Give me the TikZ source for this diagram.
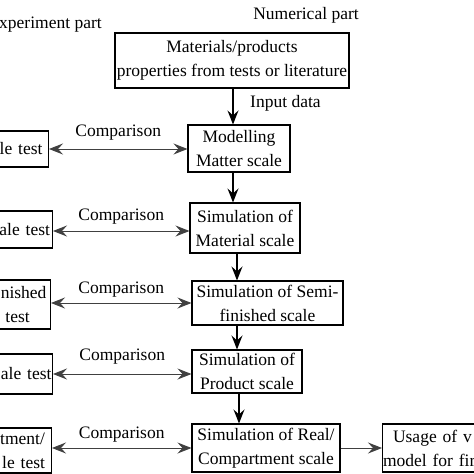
\documentclass[tikz,border=0pt]{standalone}
\usepackage{fontspec}
\setmainfont{Liberation Serif}
\usetikzlibrary{arrows.meta,calc}
\begin{document}
\begin{tikzpicture}[x=1pt,y=-1pt,
  every node/.style={font=\fontsize{17.5}{24}\selectfont},
  rbox/.style={draw,line width=1.1pt,align=center,inner sep=0pt},
  lbox/.style={draw,line width=1.1pt,anchor=east,text width=75pt,align=right,inner ysep=0pt},
  varrow/.style={line width=1.2pt,-{Stealth[length=14pt,width=11pt,inset=5pt]}},
  cmp/.style={line width=0.9pt,draw=black!75,{Stealth[length=14pt,width=11pt,inset=5pt]}-{Stealth[length=14pt,width=11pt,inset=5pt]}},
  lbl/.style={inner sep=0pt}]
\useasboundingbox (0,0) rectangle (474,474);
\clip (0,0) rectangle (474,474);
\fill[white] (0,0) rectangle (474,474);
% headers
\node[lbl,anchor=west] (exph) at (-1,25) {xperiment part};
\node[lbl] (numh) at (306,15) {Numerical part};
% right column
\node[rbox,minimum width=234pt,minimum height=55pt] (top) at (232,60.5) {Materials/products\\properties from tests or literature};
\node[rbox,minimum width=102pt,minimum height=47pt] (mod) at (239,148.5) {Modelling\\Matter scale};
\node[rbox,minimum width=110pt,minimum height=50pt] (mat) at (245,228) {Simulation of\\Material scale};
\node[rbox,minimum width=151pt,minimum height=44pt] (semi) at (267.5,303) {Simulation of Semi-\\finished scale};
\node[rbox,minimum width=110pt,minimum height=43pt] (prod) at (247,371.5) {Simulation of\\Product scale};
\node[rbox,minimum width=148pt,minimum height=48pt] (real) at (266,448) {Simulation of Real/\\Compartment scale};
\node[draw,line width=1.1pt,anchor=west,minimum height=48pt,text width=110pt,align=left,inner xsep=0.5pt,inner ysep=0pt] (use) at (382,448) {\hspace*{10pt}Usage of v\\model for fir};
% left column
\node[lbox,minimum height=36pt,inner xsep=6pt] (l1) at (49,149) {le test};
\node[lbox,minimum height=37pt,inner xsep=2.5pt] (l2) at (53,229.5) {ale test};
\node[lbox,minimum height=49pt,inner xsep=4pt] (l3) at (51,304.5) {nished\\\makebox[45pt][l]{\hspace{4pt}test}};
\node[lbox,minimum height=40pt,inner xsep=1pt] (l4) at (53,374) {ale test};
\node[lbox,minimum height=45pt,inner xsep=6.5pt] (l5) at (52,450.5) {tment/\\le test};
% vertical arrows
\draw[varrow] (top.south -| 233,0) -- (mod.north -| 233,0);
\node[lbl,anchor=west] (inp) at (250,103) {Input data};
\draw[varrow] (mod.south -| 233,0) -- (mat.north -| 233,0);
\draw[varrow] (mat.south -| 237,0) -- (semi.north -| 237,0);
\draw[varrow] (semi.south -| 237,0) -- (prod.north -| 237,0);
\draw[varrow] (prod.south -| 239,0) -- (real.north -| 239,0);
\draw[varrow,line width=0.9pt,draw=black!75] (real.east) -- (use.west);
% comparisons
\draw[cmp] (l1.east) -- (l1.east -| mod.west) node[lbl,midway,yshift=16pt] {Comparison};
\draw[cmp] (l2.east |- 0,231) -- (mat.west |- 0,231) node[lbl,midway,yshift=14pt] {Comparison};
\draw[cmp] (l3.east |- 0,303) -- (semi.west |- 0,303) node[lbl,midway,yshift=13pt] {Comparison};
\draw[cmp] (l4.east) -- (l4.east -| prod.west) node[lbl,midway,yshift=17pt] {Comparison};
\draw[cmp] (l5.east |- 0,448) -- (real.west |- 0,448) node[lbl,midway,yshift=13pt] {Comparison};
\end{tikzpicture}
\end{document}
